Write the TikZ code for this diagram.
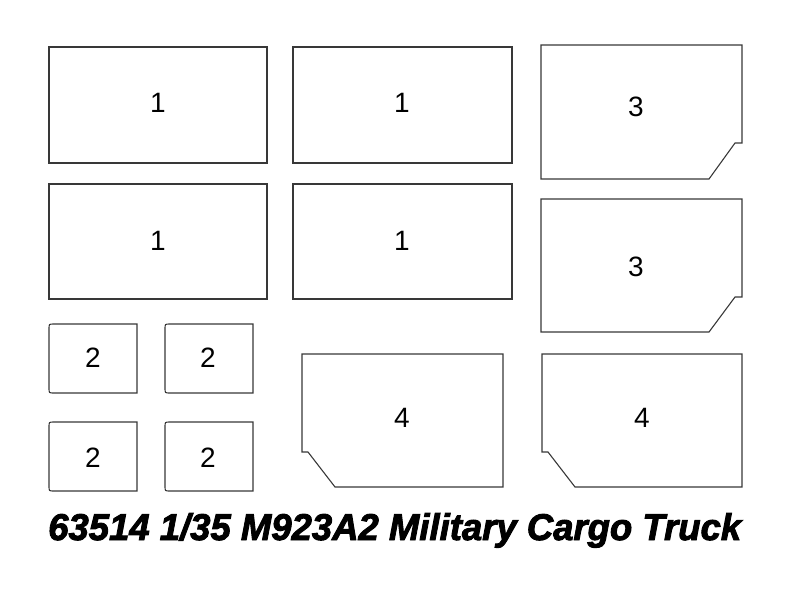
\documentclass[tikz,border=0pt]{standalone}
\usepackage{fontspec}
\setmainfont{Liberation Sans}
\newfontfamily\titlefont{Liberation Sans}[FakeBold=2.5]

\begin{document}
\begin{tikzpicture}[x=1pt, y=-1pt]
    \tikzstyle{every node}=[font=\fontsize{28}{28}\selectfont, inner sep=0pt]
    \tikzstyle{panel}=[line width=1.1pt, draw=black!78, line join=miter]
    \useasboundingbox (0,0) rectangle (800,600);
    % plain windows
    \draw[panel] (49,47) rectangle (267,163);
    \draw[panel] (293,47) rectangle (512,163);
    \draw[panel] (49,184) rectangle (267,299);
    \draw[panel] (293,184) rectangle (512,299);
    % windows with a cut corner, lower right
    \draw[panel] (541,45) -- (742,45) -- (742,143) -- (735,143) -- (709,179) -- (541,179) -- cycle;
    \draw[panel] (541,199) -- (742,199) -- (742,297) -- (735,297) -- (709,332) -- (541,332) -- cycle;
    % windows with a cut corner, lower left
    \draw[panel] (302,354) -- (503,354) -- (503,487) -- (335,487) -- (308,452) -- (302,452) -- cycle;
    \draw[panel] (542,354) -- (742,354) -- (742,487) -- (575,487) -- (548,452) -- (542,452) -- cycle;
    % small windows, rounded on the left
    \foreach \x/\y in {49/324, 165/324, 49/422, 165/422}
        \draw[panel] (\x+88,\y) -- (\x+5,\y) .. controls (\x,\y) .. (\x,\y+5) -- (\x,\y+64)
            .. controls (\x,\y+69) .. (\x+5,\y+69) -- (\x+88,\y+69) -- cycle;
    \draw (158,103) node (oneA) {1};
    \draw (402,103) node (oneB) {1};
    \draw (158,241) node (oneC) {1};
    \draw (402,241) node (oneD) {1};
    \draw (636,107) node (threeA) {3};
    \draw (636,267) node (threeB) {3};
    \draw (402,418) node (fourA) {4};
    \draw (642,418) node (fourB) {4};
    \draw (93,358) node (twoA) {2};
    \draw (208,358) node (twoB) {2};
    \draw (93,458) node (twoC) {2};
    \draw (208,458) node (twoD) {2};
    \draw (48,540) node[anchor=base west] (title)
        {\resizebox{693pt}{27pt}{\titlefont\bfseries\itshape 63514 1/35 M923A2 Military Cargo Truck}};
\end{tikzpicture}
\end{document}
